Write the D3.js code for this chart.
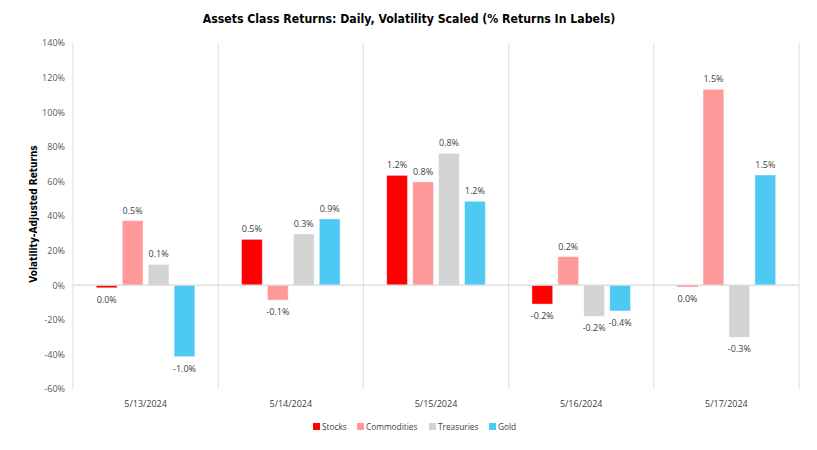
<!DOCTYPE html>
<html><head><meta charset="utf-8">
<script src="https://cdn.jsdelivr.net/npm/d3@7"></script>
<style>body{margin:0;background:#fff;} svg{display:block;font-family:"Open Sans",sans-serif;}</style>
</head><body>
<svg id="c" width="817" height="450"></svg>
<script>
const categories = ["5/13/2024","5/14/2024","5/15/2024","5/16/2024","5/17/2024"];
const seriesNames = ["Stocks","Commodities","Treasuries","Gold"];
const seriesColors = ["#ff0000","#ff9999","#d3d3d3","#4ec9f4"];
const stocks      = [-1.5, 26.5, 63.5, -10.9, -0.8];
const commodities = [37.3, -8.6, 59.7, 16.5, 113.2];
const treasuries  = [12.0, 29.6, 76.2, -18.0, -30.1];
const gold        = [-41.3, 38.3, 48.5, -14.9, 63.7];
const stocksLbl      = ["0.0%","0.5%","1.2%","-0.2%","0.0%"];
const commoditiesLbl = ["0.5%","-0.1%","0.8%","0.2%","1.5%"];
const treasuriesLbl  = ["0.1%","0.3%","0.8%","-0.2%","-0.3%"];
const goldLbl        = ["-1.0%","0.9%","1.2%","-0.4%","1.5%"];
const yTicks = [-60,-40,-20,0,20,40,60,80,100,120,140];

const values = [stocks, commodities, treasuries, gold];
const labels = [stocksLbl, commoditiesLbl, treasuriesLbl, goldLbl];

const svg = d3.select("#c");
const L = 73, R = 799, T = 43, B = 389;
const x = d3.scaleBand().domain(categories).range([L, R]).paddingInner(0).paddingOuter(0);
const xs = d3.scaleBand().domain(seriesNames).range([0, x.bandwidth()]).paddingInner(0.2).paddingOuter(0.9);
const y = d3.scaleLinear().domain([-60, 140]).range([B, T]);

// title
svg.append("text").attr("x", 409).attr("y", 23).attr("text-anchor","middle")
  .attr("font-size", 12.2).attr("font-weight","bold").attr("fill","#000")
  .style("font-family","'DejaVu Sans Condensed','Open Sans',sans-serif")
  .text("Assets Class Returns: Daily, Volatility Scaled (% Returns In Labels)");

// vertical gridlines at category boundaries
const bounds = categories.map(c => x(c)).concat([R]);
svg.append("g").selectAll("line").data(bounds).join("line")
  .attr("x1", d => d).attr("x2", d => d).attr("y1", T).attr("y2", B)
  .attr("stroke", "#e3e3e3").attr("stroke-width", 1.2);

// y axis labels
const yAxis = d3.axisLeft(y).tickValues(yTicks).tickSize(0).tickPadding(8).tickFormat(d => d + "%");
const ga = svg.append("g").attr("transform", `translate(${L},0)`).call(yAxis);
ga.select(".domain").remove();
ga.selectAll("text").attr("font-size", 9).attr("fill","#595959").style("font-family","'Open Sans',sans-serif");

// y title
svg.append("text").attr("transform", `translate(37,${(T+B)/2 - 2}) rotate(-90)`)
  .attr("text-anchor","middle").attr("font-size", 10).attr("font-weight","bold")
  .style("font-family","'DejaVu Sans Condensed','Open Sans',sans-serif")
  .text("Volatility-Adjusted Returns");

// bars
const data = [];
categories.forEach((c, i) => seriesNames.forEach((s, j) => data.push({c, s, j, v: values[j][i], l: labels[j][i]})));
const gb = svg.append("g");
gb.selectAll("rect").data(data).join("rect")
  .attr("x", d => x(d.c) + xs(d.s))
  .attr("width", xs.bandwidth())
  .attr("y", d => y(Math.max(0, d.v)))
  .attr("height", d => Math.abs(y(d.v) - y(0)))
  .attr("fill", d => seriesColors[d.j])
  .attr("stroke", "#ffffff").attr("stroke-opacity", 0.5).attr("stroke-width", 0.8);

// zero line
svg.append("line").attr("x1", L).attr("x2", R).attr("y1", y(0)).attr("y2", y(0))
  .attr("stroke", "#d9d9d9").attr("stroke-width", 1.2);

// bar labels
gb.selectAll("text").data(data).join("text")
  .attr("x", d => x(d.c) + xs(d.s) + xs.bandwidth()/2)
  .attr("y", d => d.v >= 0 ? y(d.v) - 7 : y(d.v) + 15)
  .attr("text-anchor","middle").attr("font-size", 9).attr("fill","#404040")
  .text(d => d.l);

// x axis labels
const xAxis = d3.axisBottom(x).tickSize(0).tickPadding(12);
const gx = svg.append("g").attr("transform", `translate(0,${B})`).call(xAxis);
gx.select(".domain").remove();
gx.selectAll("text").attr("font-size", 9).attr("fill","#404040").style("font-family","'Open Sans',sans-serif");

// legend
const legX = [313, 357, 429, 489];
const lg = svg.append("g").selectAll("g").data(seriesNames).join("g")
  .attr("transform", (d, i) => `translate(${legX[i]},427)`);
lg.append("rect").attr("x", 0).attr("y", -4).attr("width", 7).attr("height", 7)
  .attr("fill", (d, i) => seriesColors[i]);
lg.append("text").attr("x", 9).attr("y", 3).attr("font-size", 8.3).attr("fill","#404040").text(d => d);
</script>
</body></html>
